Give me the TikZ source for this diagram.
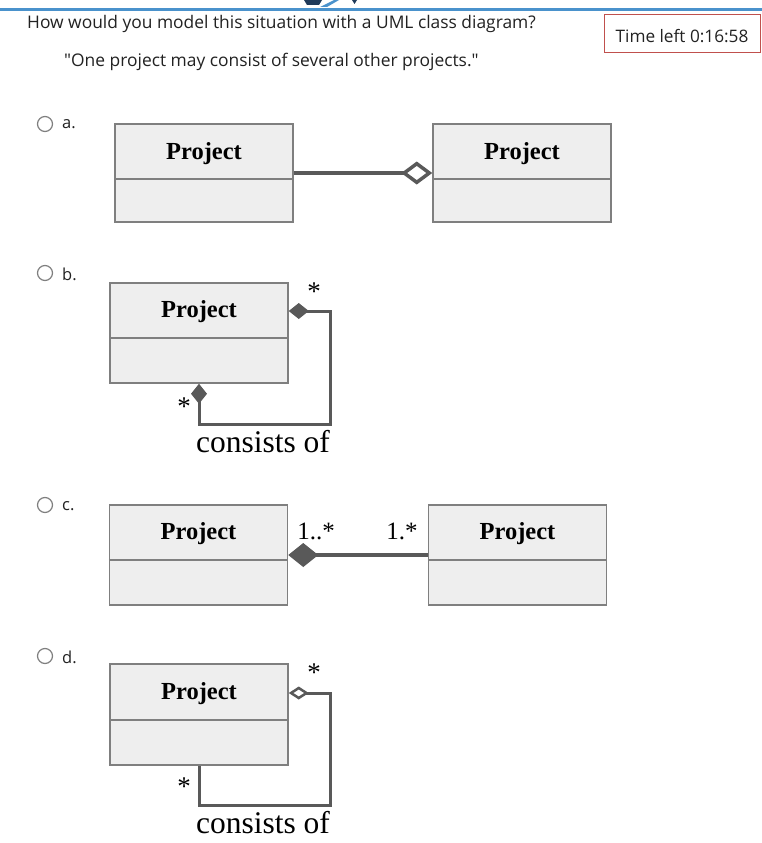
\documentclass[tikz,border=0pt]{standalone}
\usepackage{fontspec}
\setmainfont{Liberation Serif}
\newfontfamily\uifont{Open Sans}
\usetikzlibrary{arrows.meta}
\definecolor{boxfill}{HTML}{EEEEEE}
\definecolor{boxline}{HTML}{7F7F7F}
\definecolor{conn}{HTML}{595959}
\definecolor{topblue}{HTML}{4A92CC}
\definecolor{navy}{HTML}{1F3A5A}
\definecolor{timered}{HTML}{C0504D}
\definecolor{uitext}{HTML}{222222}
\tikzset{
  cls/.style={draw=boxline, line width=1.5pt, fill=boxfill, rectangle, inner sep=0pt, minimum width=178pt, minimum height=100pt},
  clstitle/.style={font=\fontsize{24.5}{24.5}\selectfont\bfseries, inner sep=0pt},
  divider/.style={draw=boxline, line width=1.5pt},
  mult/.style={font=\fontsize{25}{25}\selectfont, inner sep=0pt},
  star/.style={font=\fontsize{27}{27}\selectfont, inner sep=0pt},
  assoc/.style={font=\fontsize{31.5}{31.5}\selectfont, inner sep=0pt},
  link/.style={draw=conn, line width=4pt},
  selflink/.style={draw=conn, line width=3pt},
  radio/.style={draw=boxline, line width=1.2pt, circle, inner sep=0pt, minimum size=15pt},
  optlabel/.style={font=\uifont\fontsize{16.5}{16.5}\selectfont, text=uitext, anchor=west, inner sep=0pt},
  uitxt/.style={font=\uifont\fontsize{17.4}{17.4}\selectfont, text=uitext, anchor=west, inner sep=0pt},
}
\begin{document}
\begin{tikzpicture}[x=1pt,y=-1pt]
\useasboundingbox (0,0) rectangle (762,843);
\fill[white] (0,0) rectangle (762,843);
% header
\draw[topblue, line width=3pt] (0,10) -- (762,10);
\fill[navy] (304,0) -- (322,0) -- (319,5) -- (307,5) -- cycle;
\fill[topblue] (320,7) -- (334,0) -- (339,0) -- (327,7) -- cycle;
\fill[navy] (352,0) -- (357,0) -- (354.5,4) -- cycle;
\node[uitxt] (q) at (27,24) {How would you model this situation with a UML class diagram?};
\node[uitxt] (quote) at (64,62) {"One project may consist of several other projects."};
\node[draw=timered, line width=1pt, minimum width=156pt, minimum height=38pt, inner sep=0pt] (timer) at (682,34) {};
\node[font=\uifont\fontsize{17.2}{17.2}\selectfont, text=uitext, inner sep=0pt] (timetxt) at (682,36) {Time left 0:16:58};
% radio buttons
\node[radio] (ra) at (45,124) {};
\node[radio] (rb) at (45,273) {};
\node[radio] (rc) at (45,505) {};
\node[radio] (rd) at (45,656) {};
\node[optlabel] (la) at (62,124) {a.};
\node[optlabel] (lb) at (62,274) {b.};
\node[optlabel] (lc) at (62,506) {c.};
\node[optlabel] (ld) at (62,657) {d.};
% ---------- option a
\node[cls, minimum height=98pt] (a1) at (204,173) {};
\draw[divider] (a1.west |- 0,179) -- (a1.east |- 0,179);
\node[clstitle] (a1t) at (204,154) {Project};
\node[cls, minimum height=98pt] (a2) at (522,173) {};
\draw[divider] (a2.west |- 0,179) -- (a2.east |- 0,179);
\node[clstitle] (a2t) at (522,154) {Project};
\draw[link, -{Diamond[open, length=31pt, width=23pt, line width=3.5pt]}] (a1.east) -- (a2.west);
% ---------- option b
\node[cls] (b1) at (199,333) {};
\draw[divider] (b1.west |- 0,338) -- (b1.east |- 0,338);
\node[clstitle] (b1t) at (199,312) {Project};
\coordinate (b1e) at (b1.east |- 0,311);
\draw[selflink, {Diamond[fill=conn, length=20pt, width=16pt]}-{Diamond[fill=conn, length=20pt, width=16pt]}] (b1.south) -- (199,424) -- (330,424) -- (330,311) -- (b1e);
\node[star] (b1m1) at (314,292) {*};
\node[star] (b1m2) at (184,407) {*};
\node[assoc] (b1a) at (263,442) {consists of};
% ---------- option c
\node[cls] (c1) at (198.5,555) {};
\draw[divider] (c1.west |- 0,560) -- (c1.east |- 0,560);
\node[clstitle] (c1t) at (198.5,534) {Project};
\node[cls] (c2) at (517.5,555) {};
\draw[divider] (c2.west |- 0,560) -- (c2.east |- 0,560);
\node[clstitle] (c2t) at (517.5,534) {Project};
\draw[link, {Diamond[fill=conn, length=30pt, width=24pt]}-] (c1.east) -- (c2.west);
\node[mult] (c1m) at (316,531) {1..*};
\node[mult] (c2m) at (402,531) {1.*};
% ---------- option d
\node[cls, minimum height=101pt] (d1) at (199,714.5) {};
\draw[divider] (d1.west |- 0,720) -- (d1.east |- 0,720);
\node[clstitle] (d1t) at (199,694) {Project};
\coordinate (d1e) at (d1.east |- 0,693);
\draw[selflink, -{Diamond[open, length=20pt, width=13pt, line width=2.5pt]}] (d1.south) -- (199,805) -- (330,805) -- (330,693) -- (d1e);
\node[star] (d1m1) at (314,673) {*};
\node[star] (d1m2) at (184,787) {*};
\node[assoc] (d1a) at (263,823) {consists of};
\end{tikzpicture}
\end{document}
